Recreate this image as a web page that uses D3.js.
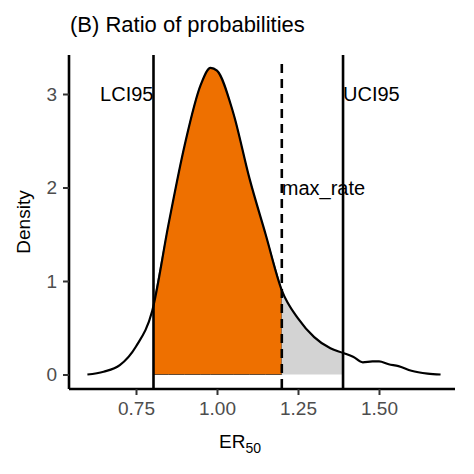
<!DOCTYPE html>
<html><head><meta charset="utf-8">
<script src="https://cdn.jsdelivr.net/npm/d3@7"></script>
<style>body{margin:0;background:#fff}text{font-family:"Liberation Sans",Arial,sans-serif}</style>
</head><body><svg id="c" width="474" height="474"></svg>
<script>
// density curve
var er = [0.60,0.65,0.70,0.75,0.80,0.85,0.90,0.95,0.98,1.00,1.05,1.10,1.15,1.20,1.25,1.30,1.35,1.39,1.42,1.45,1.48,1.50,1.53,1.56,1.60,1.65,1.69];
var dens = [0.0,0.03,0.1,0.3,0.68,1.6,2.45,3.1,3.28,3.25,2.8,2.1,1.5,0.9,0.6,0.4,0.28,0.23,0.19,0.13,0.14,0.14,0.11,0.09,0.04,0.01,0.0];
var lci = 0.804, maxRate = 1.2, uci = 1.389;
var xTicks = [0.75,1.00,1.25,1.50], yTicks = [0,1,2,3];

var svg = d3.select('#c');
var x = d3.scaleLinear().domain([0.75,1.50]).range([136,379]);
var y = d3.scaleLinear().domain([0,3]).range([374.5,94]);
var pts = er.map(function(d,i){return [d,dens[i]];});
var curve = d3.curveMonotoneX;

function band(a,b){
  var p = pts.filter(function(d){return d[0]>a && d[0]<b;});
  var ya = d3.scaleLinear().domain(er).range(dens);
  return [[a,ya(a)]].concat(p).concat([[b,ya(b)]]);
}
var area = d3.area().curve(curve).x(function(d){return x(d[0]);}).y0(y(0)).y1(function(d){return y(d[1]);});
svg.append('path').attr('d',area(band(lci,maxRate))).attr('fill','#ee7000').attr('stroke','#000').attr('stroke-width',0.6);
svg.append('path').attr('d',area(band(maxRate,uci))).attr('fill','#d3d3d3');
svg.append('path').attr('d',d3.line().curve(curve).x(function(d){return x(d[0]);}).y(function(d){return y(d[1]);})(pts))
  .attr('fill','none').attr('stroke','#000').attr('stroke-width',2.2);

// reference lines
[lci,uci].forEach(function(v){
  svg.append('line').attr('x1',x(v)).attr('x2',x(v)).attr('y1',55).attr('y2',389).attr('stroke','#000').attr('stroke-width',2.6);
});
svg.append('line').attr('x1',x(maxRate)).attr('x2',x(maxRate)).attr('y1',64).attr('y2',389).attr('stroke','#000').attr('stroke-width',2.6).attr('stroke-dasharray','9,6');
svg.append('text').attr('x',x(lci)).attr('y',y(3)+7).attr('text-anchor','end').style('font-size','20px').text('LCI95');
svg.append('text').attr('x',x(uci)).attr('y',y(3)+7).style('font-size','20px').text('UCI95');
svg.append('text').attr('x',x(maxRate)).attr('y',y(2)+7).style('font-size','20px').text('max_rate');

// axes
var xa = svg.append('g').attr('transform','translate(0,389)').call(d3.axisBottom(x).tickValues(xTicks).tickFormat(d3.format('.2f')).tickSize(6).tickPadding(7));
var ya = svg.append('g').attr('transform','translate(69,0)').call(d3.axisLeft(y).tickValues(yTicks).tickFormat(d3.format('d')).tickSize(6).tickPadding(6));
xa.select('.domain').attr('d','M69,0H455').attr('stroke-width',2.6);
ya.select('.domain').attr('d','M0,55V389').attr('stroke-width',2.6);
svg.selectAll('.tick line').attr('stroke','#333').attr('stroke-width',2);
svg.selectAll('.tick text').attr('fill','#4d4d4d').style('font-size','19px').style('font-family','Liberation Sans,Arial,sans-serif');

svg.append('text').attr('x',240).attr('y',448).attr('text-anchor','middle').style('font-size','19px')
  .text('ER').append('tspan').attr('dy',5).style('font-size','14px').text('50');
svg.append('text').attr('transform','translate(30,222) rotate(-90)').attr('text-anchor','middle').style('font-size','19px').text('Density');
svg.append('text').attr('x',70).attr('y',32).style('font-size','22px').text('(B) Ratio of probabilities');
</script></body></html>
